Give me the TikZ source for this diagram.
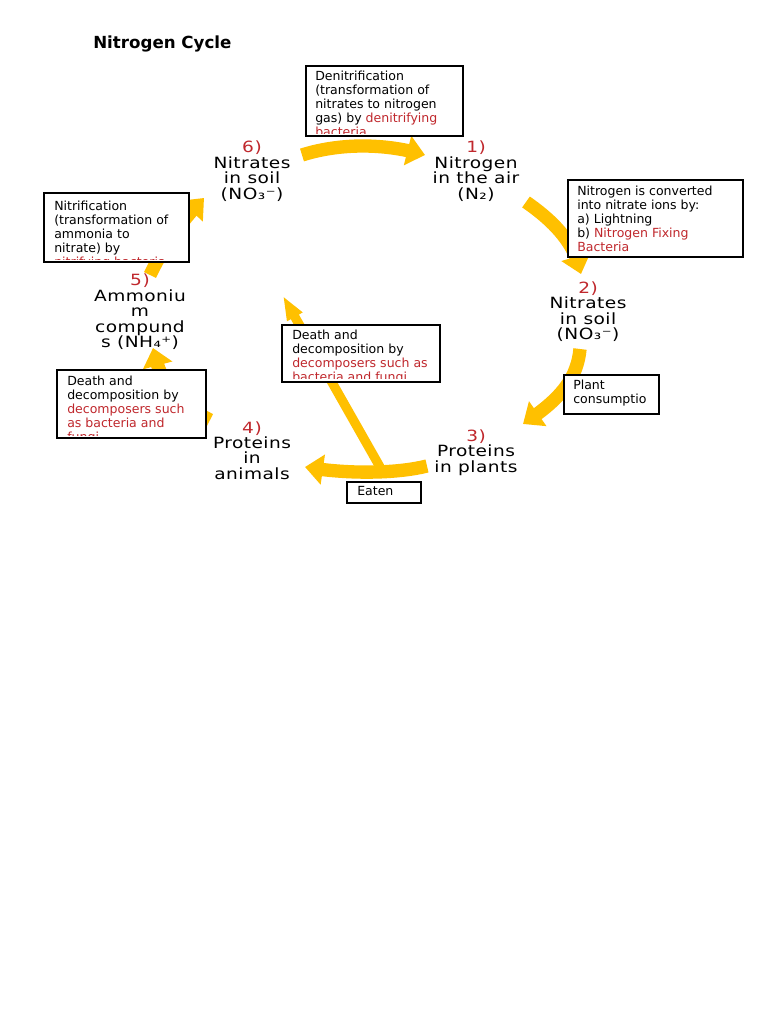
\documentclass[tikz,border=0pt]{standalone}
\usepackage{fontspec}
\setmainfont{DejaVu Sans}
\newfontfamily\lblfont[FakeStretch=1.2,LetterSpace=3]{DejaVu Sans}
\usetikzlibrary{arrows.meta,bending,fit}
\definecolor{flowc}{HTML}{FFC000}
\definecolor{nred}{HTML}{C0282D}
\begin{document}
\begin{tikzpicture}[x=0.75pt,y=-0.75pt,
  flow/.style={draw=flowc, line width=10pt, -{Triangle[length=13.5pt,width=22pt]}},
  thinflow/.style={draw=flowc, line width=7pt, -{Triangle[length=18pt,width=12pt]}},
  note/.style={draw=black, fill=white, line width=0.9pt, inner sep=0pt},
  notetext/.style={anchor=north west, align=left, inner sep=0pt,
    font={\fontsize{9.4}{10.5}\selectfont}},
  lbl/.style={align=center, inner sep=0pt,
    font={\lblfont\fontsize{11.6}{11.6}\selectfont}},
  ttl/.style={anchor=base west, inner sep=0pt,
    font={\bfseries\fontsize{12.5}{14}\selectfont}}]
\fill[white] (0,0) rectangle (768,1024);
\useasboundingbox (0,0) rectangle (768,1024);

% title
\node[ttl] (title) at (93,49) {Nitrogen Cycle};

% flow arrows
\coordinate (a61s) at (302,155); \coordinate (a61e) at (425,155);
\coordinate (a12s) at (526,202); \coordinate (a12e) at (581,274);
\coordinate (a23s) at (580,349); \coordinate (a23e) at (523,424);
\coordinate (a34s) at (427,466); \coordinate (a34e) at (305,467);
\coordinate (a45s) at (210,420); \coordinate (a45e) at (153,348);
\coordinate (a56s) at (150,275); \coordinate (a56e) at (204,198);
\coordinate (dds) at (380,467);  \coordinate (dde) at (283,296);

\draw[flow] (a61s) .. controls (340,143) and (385,143) .. (a61e);
\draw[flow] (a12s) .. controls (555,222) and (576,245) .. (a12e);
\draw[flow] (a23s) .. controls (577,382) and (556,402) .. (a23e);
\draw[flow] (a34s) .. controls (395,474) and (345,474) .. (a34e);
\draw[flow] (a45s) .. controls (180,405) and (160,385) .. (a45e);
\draw[flow] (a56s) .. controls (163,248) and (180,222) .. (a56e);
\draw[thinflow] (dds) -- (dde);

% notes
\node[note, fit={(306,66) (463,136)}] (nden) {};
\begin{scope}
\clip (306.5,66.5) rectangle (462.5,133);
\node[notetext] (nden-t) at (315,70.5) {Denitrification\\(transformation of\\nitrates to nitrogen\\gas) by \textcolor{nred}{denitrifying}\\\textcolor{nred}{bacteria}};
\end{scope}

\node[note, fit={(568,180) (743,257)}] (nfix) {};
\begin{scope}
\clip (568.5,180.5) rectangle (742.5,256.5);
\node[notetext] (nfix-t) at (577,185.5) {Nitrogen is converted\\into nitrate ions by:\\a) Lightning\\b) \textcolor{nred}{Nitrogen Fixing}\\\textcolor{nred}{Bacteria}};
\end{scope}

\node[note, fit={(44,193) (189,262)}] (nnit) {};
\begin{scope}
\clip (44.5,193.5) rectangle (188.5,259);
\node[notetext] (nnit-t) at (54,200.5) {Nitrification\\(transformation of\\ammonia to\\nitrate) by\\\textcolor{nred}{nitrifying bacteria}};
\end{scope}

\node[note, fit={(282,325) (440,382)}] (ndm) {};
\begin{scope}
\clip (282.5,325.5) rectangle (439.5,378.5);
\node[notetext] (ndm-t) at (292,329.5) {Death and\\decomposition by\\\textcolor{nred}{decomposers such as}\\\textcolor{nred}{bacteria and fungi}};
\end{scope}

\node[note, fit={(57,370) (206,438)}] (ndl) {};
\begin{scope}
\clip (57.5,370.5) rectangle (205.5,435.5);
\node[notetext] (ndl-t) at (67,375.5) {Death and\\decomposition by\\\textcolor{nred}{decomposers such}\\\textcolor{nred}{as bacteria and}\\\textcolor{nred}{fungi}};
\end{scope}

\node[note, fit={(564,375) (659,414)}] (npl) {};
\begin{scope}
\clip (564.5,375.5) rectangle (658.5,413.5);
\node[notetext] (npl-t) at (573,380) {Plant\\consumptio};
\end{scope}

\node[note, fit={(347,482) (421,503)}] (neat) {};
\node[notetext] (neat-t) at (357,486) {Eaten};

% labels
\node[lbl] (l1) at (476,171) {\textcolor{nred}{1)}\\Nitrogen\\in the air\\(N₂)};
\node[lbl] (l2) at (588,311.5) {\textcolor{nred}{2)}\\Nitrates\\in soil\\(NO₃⁻)};
\node[lbl] (l3) at (476,452.5) {\textcolor{nred}{3)}\\Proteins\\in plants};
\node[lbl] (l4) at (252,450.5) {\textcolor{nred}{4)}\\Proteins\\in\\animals};
\node[lbl] (l5) at (140,312) {\textcolor{nred}{5)}\\Ammoniu\\m\\compund\\s (NH₄⁺)};
\node[lbl] (l6) at (252,171) {\textcolor{nred}{6)}\\Nitrates\\in soil\\(NO₃⁻)};
\end{tikzpicture}
\end{document}
